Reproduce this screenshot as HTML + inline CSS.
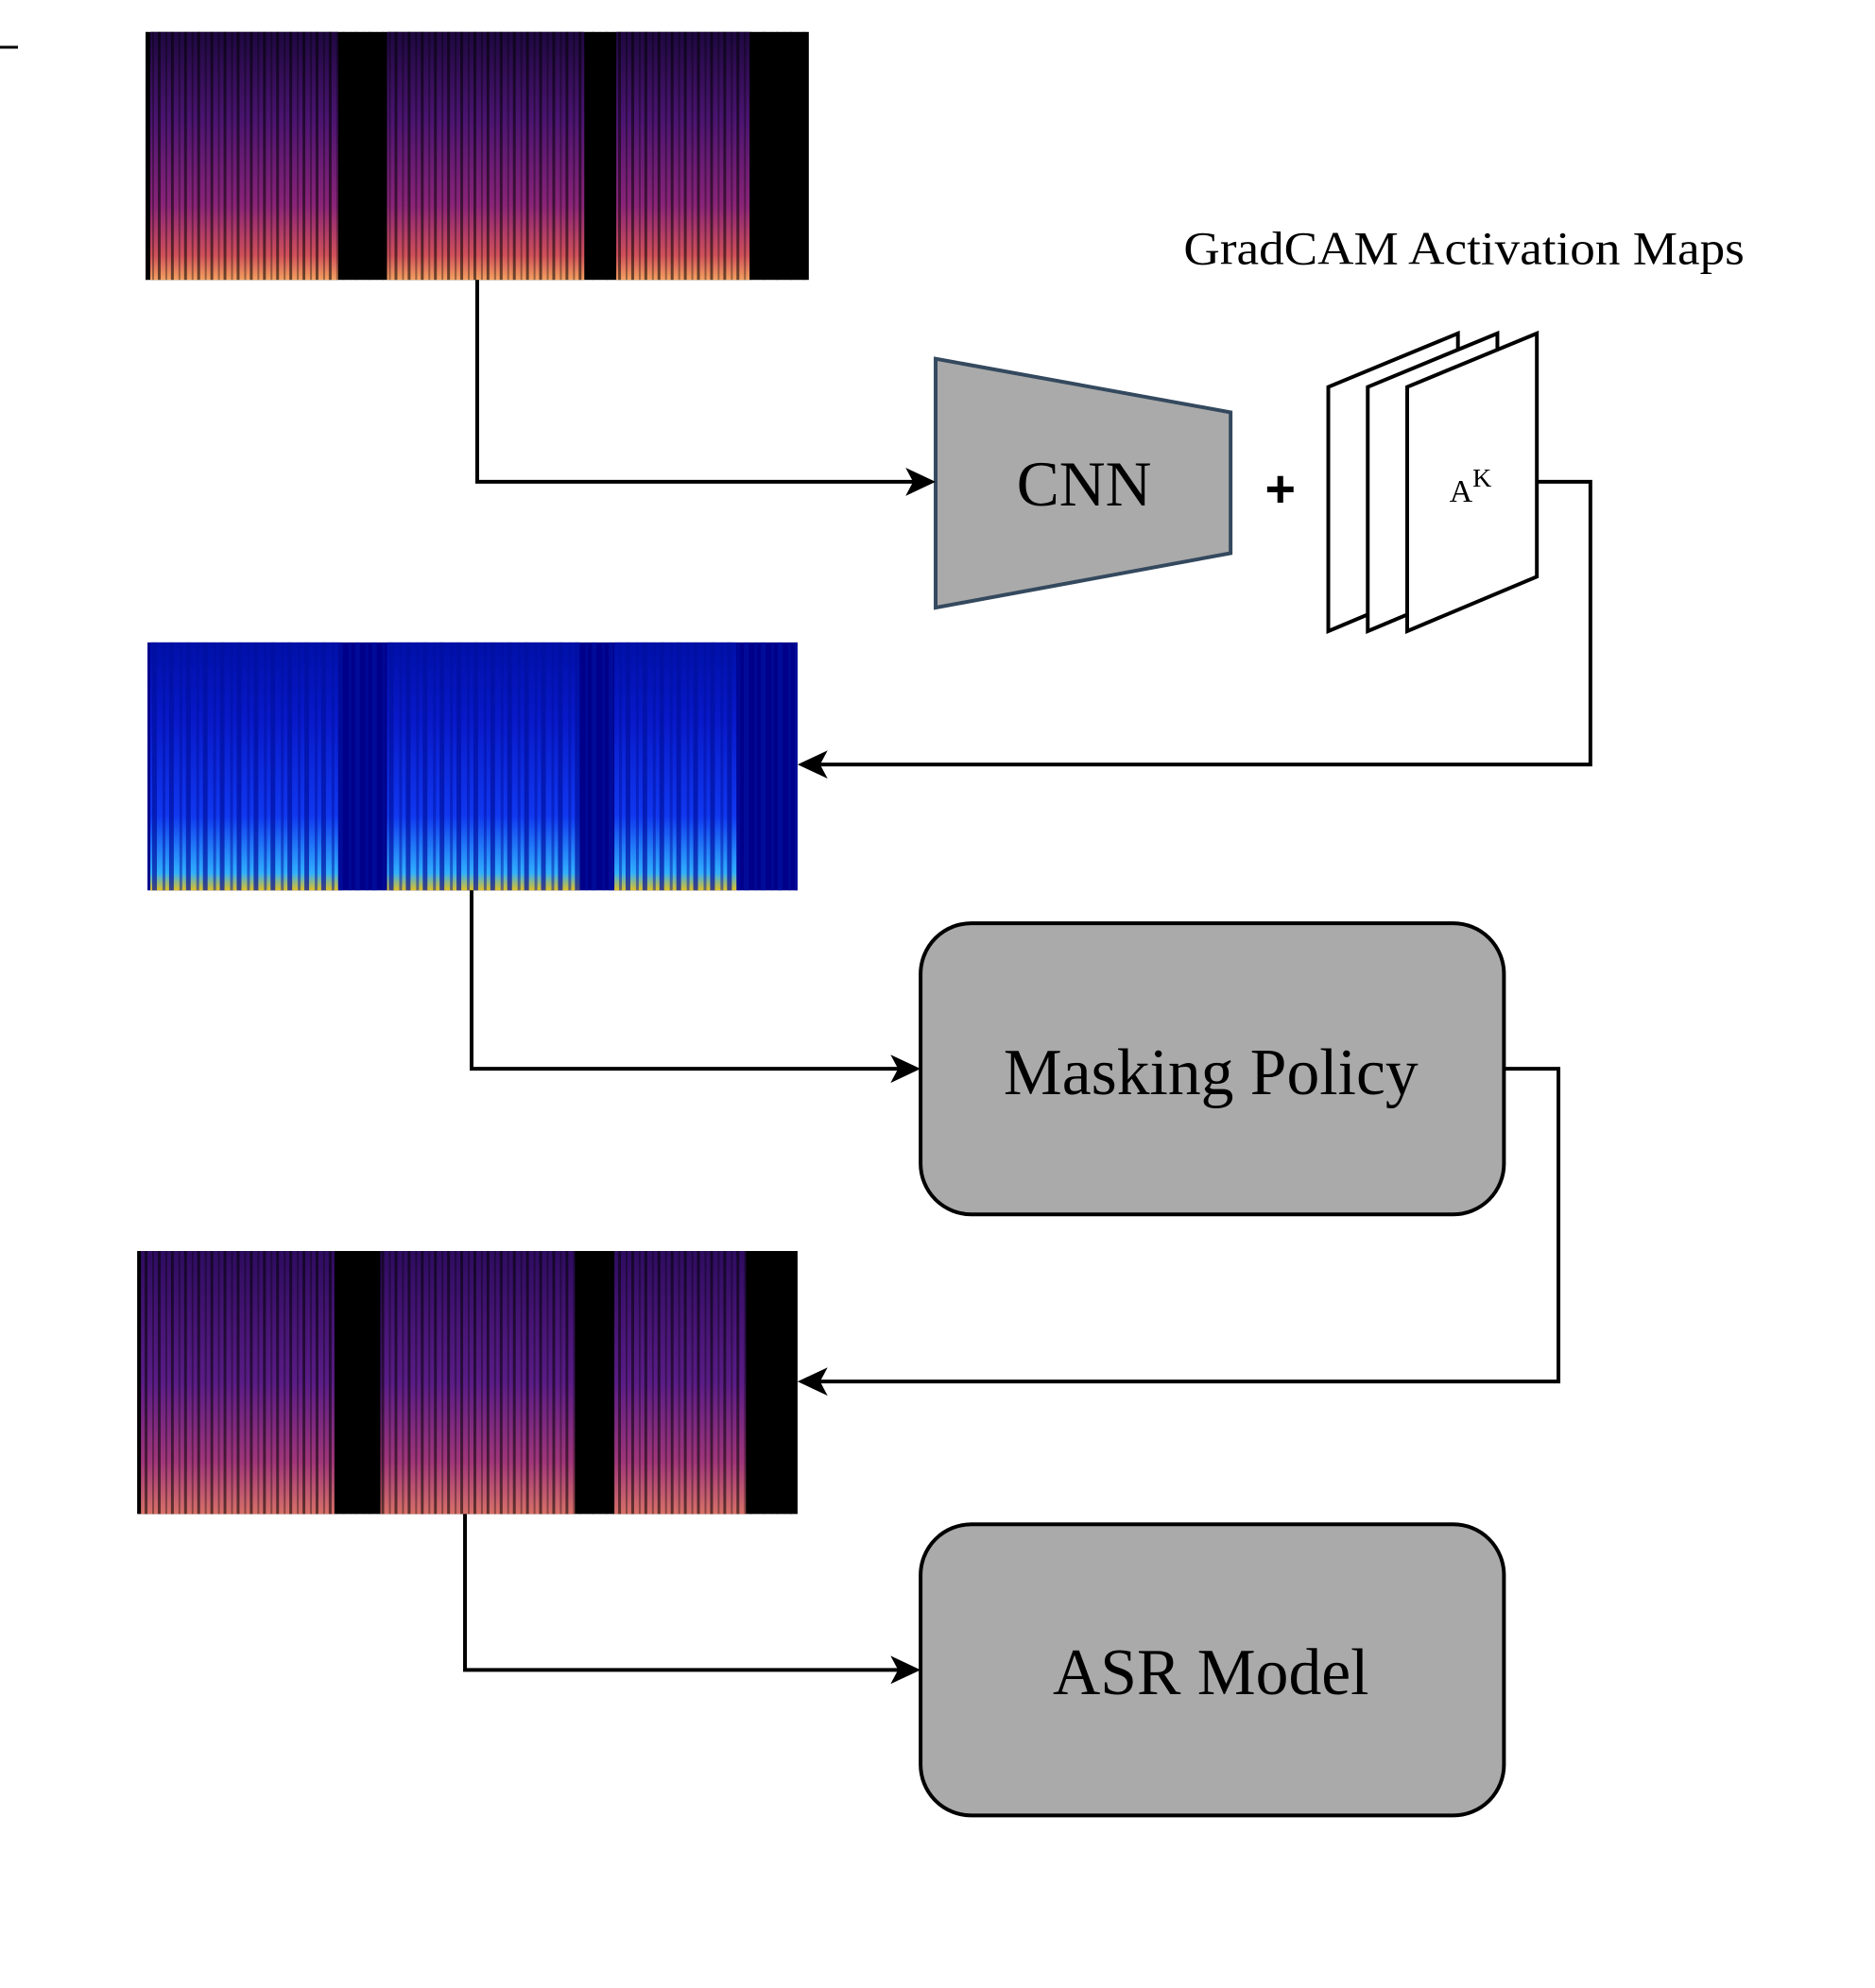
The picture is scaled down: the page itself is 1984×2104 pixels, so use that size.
<!DOCTYPE html>
<html><head><meta charset="utf-8"><style>
html,body{margin:0;padding:0;background:#fff;}
svg{display:block;}
</style></head><body>
<svg width="1984" height="2104" viewBox="0 0 1984 2104" xmlns="http://www.w3.org/2000/svg">
<defs>
<linearGradient id="inf" x1="0" y1="1" x2="0" y2="0">
<stop offset="0" stop-color="#f4a060"/>
<stop offset="0.1" stop-color="#d0505a"/>
<stop offset="0.3" stop-color="#8a2478"/>
<stop offset="0.65" stop-color="#4a1470"/>
<stop offset="1" stop-color="#1e0840"/>
</linearGradient>
<linearGradient id="inf2" x1="0" y1="1" x2="0" y2="0">
<stop offset="0" stop-color="#d87068"/>
<stop offset="0.2" stop-color="#a0367a"/>
<stop offset="0.5" stop-color="#5a1c86"/>
<stop offset="1" stop-color="#2e0c60"/>
</linearGradient>
<linearGradient id="jet" x1="0" y1="1" x2="0" y2="0">
<stop offset="0" stop-color="#e0c020"/>
<stop offset="0.07" stop-color="#30b0ff"/>
<stop offset="0.3" stop-color="#1038f0"/>
<stop offset="0.7" stop-color="#0818c8"/>
<stop offset="1" stop-color="#0010a8"/>
</linearGradient>
<pattern id="str" width="14" height="10" patternUnits="userSpaceOnUse">
<rect x="0" y="0" width="3" height="10" fill="#000" opacity="0.55"/>
<rect x="8" y="0" width="2" height="10" fill="#000" opacity="0.35"/>
</pattern>
<pattern id="str2" width="18" height="10" patternUnits="userSpaceOnUse">
<rect x="0" y="0" width="5" height="10" fill="#0010a0" opacity="0.7"/>
<rect x="11" y="0" width="3" height="10" fill="#0010a0" opacity="0.5"/>
</pattern>
</defs>

<line x1="0" y1="50" x2="19" y2="50" stroke="#000" stroke-width="3"/>

<g transform="scale(0.994)">
<!-- Spec 1 -->
<rect x="155" y="34" width="706" height="264" fill="#000"/>
<rect x="160" y="34" width="200" height="264" fill="url(#inf)"/>
<rect x="412" y="34" width="210" height="264" fill="url(#inf)"/>
<rect x="656" y="34" width="142" height="264" fill="url(#inf)"/>
<rect x="155" y="34" width="706" height="264" fill="url(#str)"/>

<!-- Spec 2 -->
<rect x="157" y="684" width="692" height="264" fill="#00008a"/>
<rect x="160" y="684" width="200" height="264" fill="url(#jet)"/>
<rect x="412" y="684" width="205" height="264" fill="url(#jet)"/>
<rect x="654" y="684" width="130" height="264" fill="url(#jet)"/>
<rect x="157" y="684" width="692" height="264" fill="url(#str2)"/>

<!-- Spec 3 -->
<rect x="146" y="1332" width="703" height="280" fill="#000"/>
<rect x="150" y="1332" width="206" height="280" fill="url(#inf2)"/>
<rect x="405" y="1332" width="207" height="280" fill="url(#inf2)"/>
<rect x="654" y="1332" width="140" height="280" fill="url(#inf2)"/>
<rect x="146" y="1332" width="703" height="280" fill="url(#str)"/>

<text x="1260" y="281" font-family="Liberation Serif, serif" font-size="50" textLength="597" lengthAdjust="spacingAndGlyphs" fill="#000">GradCAM Activation Maps</text>

<!-- CNN -->
<polygon points="996,382 1310,439 1310,589 996,647" fill="#aaaaaa" stroke="#34495e" stroke-width="4"/>
<text x="1154" y="538" text-anchor="middle" font-family="Liberation Serif, serif" font-size="68" fill="#000">CNN</text>
<text x="1363" y="540" text-anchor="middle" font-family="Liberation Sans, sans-serif" font-size="56" font-weight="bold" fill="#000">+</text>

<!-- pages -->
<g fill="#fff" stroke="#000" stroke-width="4">
<polygon points="1414,412 1552,355 1552,614 1414,672"/>
<polygon points="1456,412 1594,355 1594,614 1456,672"/>
<polygon points="1498,412 1636,355 1636,614 1498,672"/>
</g>
<text x="1543" y="534" font-family="Liberation Serif, serif" font-size="34" fill="#000">A<tspan dy="-16" font-size="28">K</tspan></text>

<!-- boxes -->
<rect x="980" y="983" width="621" height="310" rx="54" fill="#aaaaaa" stroke="#000" stroke-width="4"/>
<text x="1289" y="1165" text-anchor="middle" font-family="Liberation Serif, serif" font-size="70" fill="#000">Masking Policy</text>
<rect x="980" y="1623" width="621" height="310" rx="54" fill="#aaaaaa" stroke="#000" stroke-width="4"/>
<text x="1289" y="1804" text-anchor="middle" font-family="Liberation Serif, serif" font-size="70" fill="#000">ASR Model</text>

<!-- connectors -->
<g fill="none" stroke="#000" stroke-width="4">
<polyline points="508,298 508,513 975,513"/>
<polyline points="1636,513 1693,513 1693,814 870,814"/>
<polyline points="502,948 502,1138 960,1138"/>
<polyline points="1601,1138 1659,1138 1659,1471 870,1471"/>
<polyline points="495,1612 495,1778 960,1778"/>
</g>
<g fill="#000">
<polygon points="996,513 964,498 972,513 964,528"/>
<polygon points="849,814 881,799 873,814 881,829"/>
<polygon points="980,1138 948,1123 956,1138 948,1153"/>
<polygon points="849,1471 881,1456 873,1471 881,1486"/>
<polygon points="980,1778 948,1763 956,1778 948,1793"/>
</g>
</g>
</svg>
</body></html>
